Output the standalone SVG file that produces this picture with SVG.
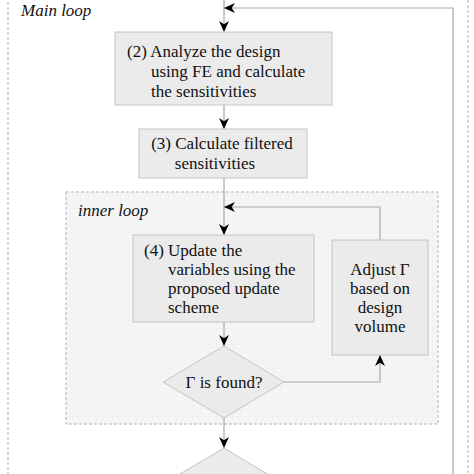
<svg xmlns="http://www.w3.org/2000/svg" width="474" height="474" viewBox="0 0 474 474">
<defs>
<marker id="ah" viewBox="0 0 10 10" refX="10" refY="5" markerWidth="11" markerHeight="11" markerUnits="userSpaceOnUse" orient="auto">
<path d="M0,0.5 L10,5 L0,9.5 L3,5 Z" fill="#000"/>
</marker>
<pattern id="grid" width="8" height="8" patternUnits="userSpaceOnUse">
<path d="M8,0 L0,0 0,8" fill="none" stroke="#e6e6e6" stroke-width="0.5"/>
</pattern>
</defs>
<style>
.t{font-family:"Liberation Serif","Times New Roman",serif;font-size:17px;fill:#111}
.i{font-family:"Liberation Serif","Times New Roman",serif;font-size:17px;font-style:italic;fill:#111}
.box{fill:#ebebeb;stroke:#c4c4c4;stroke-width:1}
.loop{stroke:#b0b0b0;stroke-width:1;stroke-dasharray:3,2}
.c{fill:none;stroke:#a8a8a8;stroke-width:1.2}
.ca{fill:none;stroke:#a8a8a8;stroke-width:1.2;marker-end:url(#ah)}
</style>
<rect width="474" height="474" fill="#fff"/>
<g id="main-loop">
<rect x="8" y="-10" width="460" height="500" fill="#fff" class="loop"/>
<text class="i" x="21" y="16">Main loop</text>
</g>
<g id="inner-loop">
<rect x="66" y="192" width="372" height="232" fill="#f5f5f5" class="loop"/>
<rect x="66" y="192" width="372" height="232" fill="url(#grid)"/>
<text class="i" x="78" y="216">inner loop</text>
</g>
<g id="connectors">
<path class="c" d="M224,0 V8"/>
<path class="ca" d="M224,8 V32"/>
<path class="ca" d="M453,474 V8 H224"/>
<path class="ca" d="M224,105 V129"/>
<path class="c" d="M224,178 V207"/>
<path class="ca" d="M224,207 V235"/>
<path class="ca" d="M380,240 V207 H224"/>
<path class="ca" d="M224,322 V346"/>
<path class="ca" d="M284,382 H380 V355"/>
<path class="ca" d="M224,418 V448"/>
</g>
<g id="n2">
<rect class="box" x="115" y="32" width="217" height="73"/>
<text class="t" x="127" y="57">(2) Analyze the design</text>
<text class="t" x="151" y="77">using FE and calculate</text>
<text class="t" x="151" y="97">the sensitivities</text>
</g>
<g id="n3">
<rect class="box" x="139" y="129" width="168" height="49"/>
<text class="t" x="222" y="149" text-anchor="middle">(3) Calculate filtered</text>
<text class="t" x="215" y="169" text-anchor="middle">sensitivities</text>
</g>
<g id="n4">
<rect class="box" x="133" y="235" width="181" height="87"/>
<text class="t" x="144" y="256">(4) Update the</text>
<text class="t" x="168" y="275">variables using the</text>
<text class="t" x="168" y="294">proposed update</text>
<text class="t" x="168" y="313">scheme</text>
</g>
<g id="adjust">
<rect class="box" x="332" y="240" width="96" height="115"/>
<text class="t" x="380" y="275" text-anchor="middle">Adjust Γ</text>
<text class="t" x="380" y="294" text-anchor="middle">based on</text>
<text class="t" x="380" y="313" text-anchor="middle">design</text>
<text class="t" x="380" y="332" text-anchor="middle">volume</text>
</g>
<g id="d1">
<polygon class="box" points="224,346 284,382 224,418 163,382"/>
<text class="t" x="224" y="388" text-anchor="middle">Γ is found?</text>
</g>
<g id="d2">
<polygon class="box" points="224,448 284,484 224,520 163,484"/>
</g>
</svg>
